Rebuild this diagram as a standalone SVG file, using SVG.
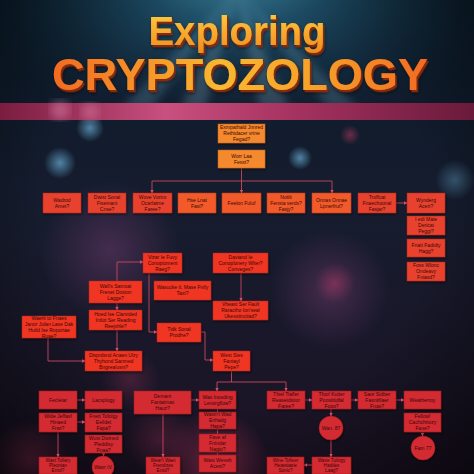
<svg xmlns="http://www.w3.org/2000/svg" width="474" height="474" viewBox="0 0 474 474">
<defs>
<linearGradient id="bg" x1="0" y1="0" x2="0" y2="1">
<stop offset="0" stop-color="#0b1c2c"/>
<stop offset="0.45" stop-color="#161c2e"/>
<stop offset="1" stop-color="#1c1224"/>
</linearGradient>
<radialGradient id="glowTop" cx="0.5" cy="0" r="0.6">
<stop offset="0" stop-color="#5ab8d0" stop-opacity="0.95"/>
<stop offset="0.35" stop-color="#2a7090" stop-opacity="0.6"/>
<stop offset="1" stop-color="#0b1c2c" stop-opacity="0"/>
</radialGradient>
<radialGradient id="pinkGlow">
<stop offset="0" stop-color="#d8406a" stop-opacity="0.75"/>
<stop offset="1" stop-color="#d8406a" stop-opacity="0"/>
</radialGradient>
<radialGradient id="purpGlow">
<stop offset="0" stop-color="#6a3a6a" stop-opacity="0.55"/>
<stop offset="1" stop-color="#6a3a6a" stop-opacity="0"/>
</radialGradient>
<radialGradient id="blueBokeh">
<stop offset="0" stop-color="#6ab0d8" stop-opacity="0.7"/>
<stop offset="1" stop-color="#6ab0d8" stop-opacity="0"/>
</radialGradient>
<radialGradient id="vig" cx="0.5" cy="0.45" r="0.75">
<stop offset="0.55" stop-color="#000" stop-opacity="0"/>
<stop offset="1" stop-color="#000" stop-opacity="0.6"/>
</radialGradient>
<linearGradient id="band" x1="0" y1="0" x2="1" y2="0">
<stop offset="0" stop-color="#7a1c40"/>
<stop offset="0.35" stop-color="#c8507e"/>
<stop offset="0.6" stop-color="#a83462"/>
<stop offset="1" stop-color="#6a1a3a"/>
</linearGradient>
<linearGradient id="titleG1" x1="0" y1="0" x2="0" y2="1">
<stop offset="0" stop-color="#ffd040"/>
<stop offset="1" stop-color="#f08a20"/>
</linearGradient>
<linearGradient id="titleG2" x1="0" y1="0" x2="1" y2="0">
<stop offset="0" stop-color="#f26a22"/>
<stop offset="0.45" stop-color="#f8b830"/>
<stop offset="0.7" stop-color="#f7a02a"/>
<stop offset="1" stop-color="#f26a22"/>
</linearGradient>
<filter id="sh" x="-20%" y="-20%" width="140%" height="150%">
<feDropShadow dx="0.8" dy="1.2" stdDeviation="0.8" flood-color="#000" flood-opacity="0.6"/>
</filter>
<filter id="tsh" x="-10%" y="-20%" width="120%" height="150%">
<feDropShadow dx="1.6" dy="2.2" stdDeviation="0.2" flood-color="#8a2a10" flood-opacity="1"/>
<feDropShadow dx="0.5" dy="1.5" stdDeviation="1.5" flood-color="#000" flood-opacity="0.5"/>
</filter>
<filter id="blur4"><feGaussianBlur stdDeviation="4"/></filter>
<marker id="ah" viewBox="0 0 6 6" refX="5.5" refY="3" markerWidth="4" markerHeight="4" orient="auto">
<path d="M0,0 L6,3 L0,6 z" fill="#d4506a"/>
</marker>
</defs>
<style>
.t{font-family:"Liberation Sans",Arial,sans-serif;font-size:5px;fill:#3a0806;text-anchor:middle}
.ts{font-size:4.6px}
.ln{fill:none;stroke:#c8485e;stroke-width:0.9}
.ar{marker-end:url(#ah)}
.o{fill:#f5892e;stroke:#c0601c;stroke-width:0.5}
.ro{fill:#f25a2c;stroke:#b83a1c;stroke-width:0.5}
.rr{fill:#e8422d;stroke:#a82a1c;stroke-width:0.5}
.m{fill:#f03624;stroke:#a82418;stroke-width:0.5}
.b{fill:#d42c30;stroke:#9a1c20;stroke-width:0.5}
</style>
<!-- background -->
<rect width="474" height="474" fill="url(#bg)"/>
<rect x="-40" y="-40" width="554" height="300" fill="url(#glowTop)"/>
<g opacity="0.18" filter="url(#blur4)">
<polygon points="237,-10 180,110 205,110" fill="#bfefff"/>
<polygon points="237,-10 260,110 290,110" fill="#bfefff"/>
<polygon points="237,-10 120,110 150,110" fill="#9fdfff"/>
<polygon points="237,-10 330,110 360,110" fill="#9fdfff"/>
</g>
<circle cx="60" cy="163" r="16" fill="url(#blueBokeh)"/>
<circle cx="90" cy="128" r="14" fill="url(#blueBokeh)"/>
<circle cx="300" cy="158" r="12" fill="url(#blueBokeh)"/>
<circle cx="455" cy="180" r="20" fill="url(#blueBokeh)" opacity="0.6"/>
<circle cx="350" cy="135" r="10" fill="url(#pinkGlow)" opacity="0.6"/>
<circle cx="110" cy="250" r="70" fill="url(#purpGlow)"/>
<circle cx="330" cy="290" r="60" fill="url(#purpGlow)"/>
<circle cx="335" cy="283" r="20" fill="url(#pinkGlow)" opacity="0.5"/>
<circle cx="215" cy="465" r="55" fill="url(#pinkGlow)" opacity="0.7"/>
<circle cx="30" cy="460" r="40" fill="url(#pinkGlow)" opacity="0.5"/>
<circle cx="160" cy="440" r="35" fill="url(#pinkGlow)" opacity="0.35"/>
<circle cx="130" cy="380" r="30" fill="url(#pinkGlow)" opacity="0.3"/>
<rect width="474" height="474" fill="url(#vig)"/>
<rect x="0" y="103" width="474" height="17" fill="url(#band)"/>
<circle cx="60" cy="110" r="10" fill="#f0a0c8" opacity="0.35" filter="url(#blur4)"/>
<circle cx="90" cy="112" r="9" fill="#f0a0c8" opacity="0.3" filter="url(#blur4)"/>
<!-- title -->
<g id="title" font-family="'Liberation Sans',Arial,sans-serif" font-weight="bold" text-anchor="middle" filter="url(#tsh)">
<text x="237" y="45" font-size="40" textLength="177" lengthAdjust="spacingAndGlyphs" fill="url(#titleG1)">Exploring</text>
<text x="240" y="90" font-size="45" textLength="376" lengthAdjust="spacingAndGlyphs" fill="url(#titleG2)">CRYPTOZOLOGY</text>
</g>
<!-- connectors -->
<g id="connectors">
<path class="ln" d="M241.5,168 V181 M152,181 H332"/>
<path class="ln ar" d="M152,181 V193"/>
<path class="ln ar" d="M241.5,181 V193"/>
<path class="ln ar" d="M332,181 V193"/>
<path class="ln ar" d="M396,203 H407"/>
<path class="ln ar" d="M117,281 V262 H143"/>
<path class="ln ar" d="M117,303 V310"/>
<path class="ln ar" d="M117,330 V351"/>
<path class="ln ar" d="M149,273 V332 H157"/>
<path class="ln ar" d="M241,273 V301"/>
<path class="ln ar" d="M201,332 H205 V360 H213"/>
<path class="ln ar" d="M48,338 V361 H85"/>
<path class="ln" d="M231.5,371 V382 M217,382 H286"/>
<path class="ln ar" d="M217,382 V391"/>
<path class="ln ar" d="M286,382 V391"/>
<path class="ln ar" d="M77,400 H85"/>
<path class="ln ar" d="M77,422 H85"/>
<path class="ln ar" d="M58,432 V457"/>
<path class="ln ar" d="M103.5,453 V456"/>
<path class="ln ar" d="M191,400 H199"/>
<path class="ln ar" d="M163,414 V457"/>
<path class="ln" d="M217.5,409 V412 M217.5,429 V434 M217.5,452 V455"/>
<path class="ln ar" d="M305,400 H312"/>
<path class="ln ar" d="M351,400 H358"/>
<path class="ln ar" d="M396,400 H404"/>
<path class="ln ar" d="M331,409 V416"/>
<path class="ln ar" d="M331,440 V457"/>
<path class="ln ar" d="M312,465 H304"/>
<path class="ln ar" d="M422.5,432 V436"/>
</g>
<!-- nodes -->
<g id="n1"><rect class="o" x="218" y="124" width="47" height="19" filter="url(#sh)"/><text class="t" y="129.3"><tspan x="241.5">Exmpathald Jnnred</tspan><tspan x="241.5" dy="6">Rethidacer vrine</tspan><tspan x="241.5" dy="6">Fegad?</tspan></text></g>
<g id="n2"><rect class="o" x="218" y="150" width="47" height="18" filter="url(#sh)"/><text class="t" y="157.8"><tspan x="241.5">Worr Laa</tspan><tspan x="241.5" dy="6">Fesst?</tspan></text></g>
<g id="r1"><rect class="rr" x="43" y="193" width="38" height="20" filter="url(#sh)"/><text class="t" y="201.8"><tspan x="62">Wadrod</tspan><tspan x="62" dy="6">Amet?</tspan></text></g>
<g id="r2"><rect class="rr" x="88" y="193" width="38" height="20" filter="url(#sh)"/><text class="t" y="198.8"><tspan x="107">Dwist Sonal</tspan><tspan x="107" dy="6">Fisemant</tspan><tspan x="107" dy="6">Cnse?</tspan></text></g>
<g id="r3"><rect class="rr" x="133" y="193" width="39" height="20" filter="url(#sh)"/><text class="t" y="198.8"><tspan x="152.5">Wove Vortro</tspan><tspan x="152.5" dy="6">Ocarlatme</tspan><tspan x="152.5" dy="6">Faree?</tspan></text></g>
<g id="r4"><rect class="ro" x="178" y="193" width="38" height="20" filter="url(#sh)"/><text class="t" y="201.8"><tspan x="197">Hse Lnat</tspan><tspan x="197" dy="6">Fasi?</tspan></text></g>
<g id="r5"><rect class="ro" x="222" y="193" width="39" height="20" filter="url(#sh)"/><text class="t" y="204.8" x="241.5">Feelon Fuluf</text></g>
<g id="r6"><rect class="ro" x="267" y="193" width="38" height="20" filter="url(#sh)"/><text class="t" y="198.8"><tspan x="286">Notilt</tspan><tspan x="286" dy="6">Fensta verds?</tspan><tspan x="286" dy="6">Fasjy?</tspan></text></g>
<g id="r7"><rect class="ro" x="312" y="193" width="39" height="20" filter="url(#sh)"/><text class="t" y="201.8"><tspan x="331.5">Onnas Onnae</tspan><tspan x="331.5" dy="6">Lpnerfrut?</tspan></text></g>
<g id="r8"><rect class="rr" x="358" y="193" width="38" height="20" filter="url(#sh)"/><text class="t" y="198.8"><tspan x="377">Troffcat</tspan><tspan x="377" dy="6">Fnaechoonal</tspan><tspan x="377" dy="6">Fasjar?</tspan></text></g>
<g id="r9"><rect class="rr" x="407" y="193" width="38" height="20" filter="url(#sh)"/><text class="t" y="201.8"><tspan x="426">Wynderg</tspan><tspan x="426" dy="6">Acert?</tspan></text></g>
<g id="r10"><rect class="rr" x="407" y="216" width="38" height="19" filter="url(#sh)"/><text class="t" y="221.3"><tspan x="426">I edt Mate</tspan><tspan x="426" dy="6">Dericat</tspan><tspan x="426" dy="6">Peggi?</tspan></text></g>
<g id="r11"><rect class="rr" x="407" y="239" width="38" height="18" filter="url(#sh)"/><text class="t" y="246.8"><tspan x="426">Fnatt Fadidty</tspan><tspan x="426" dy="6">Hagg?</tspan></text></g>
<g id="r12"><rect class="rr" x="407" y="262" width="38" height="19" filter="url(#sh)"/><text class="t" y="267.3"><tspan x="426">Foss Wlonc</tspan><tspan x="426" dy="6">Ondeavy</tspan><tspan x="426" dy="6">Fniasd?</tspan></text></g>
<g id="m1"><rect class="m" x="143" y="253" width="39" height="20" filter="url(#sh)"/><text class="t" y="258.8"><tspan x="162.5">Vizar Ie Fuvy</tspan><tspan x="162.5" dy="6">Conopioment</tspan><tspan x="162.5" dy="6">Raeg?</tspan></text></g>
<g id="m2"><rect class="m" x="213" y="253" width="55" height="20" filter="url(#sh)"/><text class="t" y="258.8"><tspan x="240.5">Daviand Ie</tspan><tspan x="240.5" dy="6">Conoplonery Wlter?</tspan><tspan x="240.5" dy="6">Conveges?</tspan></text></g>
<g id="m3"><rect class="m" x="89" y="281" width="53" height="22" filter="url(#sh)"/><text class="t" y="287.8"><tspan x="115.5">Wall's Samsat</tspan><tspan x="115.5" dy="6">Frenet Dosion</tspan><tspan x="115.5" dy="6">Lagge?</tspan></text></g>
<g id="m4"><rect class="m" x="154" y="281" width="57" height="19" filter="url(#sh)"/><text class="t" y="289.3"><tspan x="182.5">Wasucke it. Mase Fnify</tspan><tspan x="182.5" dy="6">Taxt?</tspan></text></g>
<g id="m5"><rect class="m" x="213" y="301" width="55" height="19" filter="url(#sh)"/><text class="t" y="306.3"><tspan x="240.5">Vheast Ser Fault</tspan><tspan x="240.5" dy="6">Raraciho Ion'seal</tspan><tspan x="240.5" dy="6">Ukesstinctiad?</tspan></text></g>
<g id="m6"><rect class="m" x="89" y="310" width="53" height="20" filter="url(#sh)"/><text class="t" y="315.8"><tspan x="115.5">Hoed Ise Clarvided</tspan><tspan x="115.5" dy="6">Intlot Ser Reading</tspan><tspan x="115.5" dy="6">Reejshle?</tspan></text></g>
<g id="m7"><rect class="m" x="22" y="316" width="54" height="22" filter="url(#sh)"/><text class="t" y="319.8"><tspan x="49">Waerk to Fnaes</tspan><tspan x="49" dy="6">Janor Julan Lase Dak</tspan><tspan x="49" dy="6">Hutld Ise Roportae</tspan><tspan x="49" dy="6">Ruae?</tspan></text></g>
<g id="m8"><rect class="m" x="157" y="323" width="44" height="19" filter="url(#sh)"/><text class="t" y="331.3"><tspan x="179">Tidk Sonal</tspan><tspan x="179" dy="6">Prodhe?</tspan></text></g>
<g id="m9"><rect class="m" x="85" y="351" width="57" height="20" filter="url(#sh)"/><text class="t" y="356.8"><tspan x="113.5">Disprdsnd Anaen Ulzy</tspan><tspan x="113.5" dy="6">Thyhond Sanmed</tspan><tspan x="113.5" dy="6">Bngrealusni?</tspan></text></g>
<g id="m10"><rect class="m" x="213" y="351" width="37" height="20" filter="url(#sh)"/><text class="t" y="356.8"><tspan x="231.5">West Sies</tspan><tspan x="231.5" dy="6">Fantayl</tspan><tspan x="231.5" dy="6">Pepe?</tspan></text></g>
<g id="b1"><rect class="b" x="39" y="391" width="38" height="18" filter="url(#sh)"/><text class="t" x="58" y="401.8">Fecletar</text></g>
<g id="b2"><rect class="b" x="85" y="391" width="37" height="18" filter="url(#sh)"/><text class="t" x="103.5" y="401.8">Lacsplogy</text></g>
<g id="b3"><rect class="b" x="39" y="413" width="38" height="19" filter="url(#sh)"/><text class="t" y="418.3"><tspan x="58">Wide Jeffasf</tspan><tspan x="58" dy="6">Hinaed</tspan><tspan x="58" dy="6">Frwt?</tspan></text></g>
<g id="b4"><rect class="b" x="85" y="413" width="37" height="19" filter="url(#sh)"/><text class="t" y="418.3"><tspan x="103.5">Fnett Tofolgy</tspan><tspan x="103.5" dy="6">Eelldet</tspan><tspan x="103.5" dy="6">Fapa?</tspan></text></g>
<g id="b5"><rect class="b" x="85" y="435" width="37" height="18" filter="url(#sh)"/><text class="t" y="439.8"><tspan x="103.5">Wust Dwined</tspan><tspan x="103.5" dy="6">Pleddisy</tspan><tspan x="103.5" dy="6">Fnaa?</tspan></text></g>
<g id="c1"><circle class="b" cx="103" cy="467" r="11" filter="url(#sh)"/><text class="t" x="103" y="468.8">Wasr IV</text></g>
<g id="b6"><rect class="b" x="39" y="457" width="38" height="17" filter="url(#sh)"/><text class="t ts" y="461.6"><tspan x="58">Wast Tollary</tspan><tspan x="58" dy="5.2">Pleonian</tspan><tspan x="58" dy="5.2">Eniol?</tspan></text></g>
<g id="b7"><rect class="b" x="134" y="391" width="57" height="23" filter="url(#sh)"/><text class="t" y="398.3"><tspan x="162.5">Demant</tspan><tspan x="162.5" dy="6">Fantaimas</tspan><tspan x="162.5" dy="6">Hauz?</tspan></text></g>
<g id="b8"><rect class="b" x="146" y="457" width="34" height="17" filter="url(#sh)"/><text class="t ts" y="461.6"><tspan x="163">Wear't Waet</tspan><tspan x="163" dy="5.2">Frendizes</tspan><tspan x="163" dy="5.2">Eniol?</tspan></text></g>
<g id="b9"><rect class="b" x="199" y="391" width="37" height="18" filter="url(#sh)"/><text class="t" y="398.8"><tspan x="217.5">Was Inceding</tspan><tspan x="217.5" dy="6">Lenorgflow?</tspan></text></g>
<g id="b10"><rect class="b" x="199" y="412" width="37" height="17" filter="url(#sh)"/><text class="t" y="416.3"><tspan x="217.5">Wasin't Wad</tspan><tspan x="217.5" dy="6">Enhadg</tspan><tspan x="217.5" dy="6">Hapa?</tspan></text></g>
<g id="b11"><rect class="b" x="199" y="434" width="37" height="18" filter="url(#sh)"/><text class="t" y="438.8"><tspan x="217.5">Fave af</tspan><tspan x="217.5" dy="6">Fnindar</tspan><tspan x="217.5" dy="6">Nagio?</tspan></text></g>
<g id="b12"><rect class="b" x="199" y="455" width="37" height="17" filter="url(#sh)"/><text class="t" y="462.3"><tspan x="217.5">Wast Weveb</tspan><tspan x="217.5" dy="6">Acest?</tspan></text></g>
<g id="b13"><rect class="b" x="267" y="391" width="38" height="18" filter="url(#sh)"/><text class="t" y="395.8"><tspan x="286">Tfsel Tiafler</tspan><tspan x="286" dy="6">Reaseidistor</tspan><tspan x="286" dy="6">Faree?</tspan></text></g>
<g id="b14"><rect class="b" x="312" y="391" width="39" height="18" filter="url(#sh)"/><text class="t" y="395.8"><tspan x="331.5">Tfoo! Kutter</tspan><tspan x="331.5" dy="6">Poosittidfal</tspan><tspan x="331.5" dy="6">Fooo?</tspan></text></g>
<g id="b15"><rect class="b" x="358" y="391" width="38" height="18" filter="url(#sh)"/><text class="t" y="395.8"><tspan x="377">Saor Sidber</tspan><tspan x="377" dy="6">Fasnitfiaer</tspan><tspan x="377" dy="6">Fnas?</tspan></text></g>
<g id="b16"><rect class="b" x="404" y="391" width="37" height="18" filter="url(#sh)"/><text class="t" x="422.5" y="401.8">Weatherroy</text></g>
<g id="b17"><rect class="b" x="404" y="413" width="37" height="19" filter="url(#sh)"/><text class="t" y="418.3"><tspan x="422.5">Fellow!</tspan><tspan x="422.5" dy="6">Cachchriozy</tspan><tspan x="422.5" dy="6">Faxe?</tspan></text></g>
<g id="c2"><circle class="b" cx="423" cy="448" r="12" filter="url(#sh)"/><text class="t" x="423" y="449.8">Fam 77</text></g>
<g id="c3"><circle class="b" cx="331" cy="428" r="12" filter="url(#sh)"/><text class="t" x="331" y="429.8">Wan. 87</text></g>
<g id="b18"><rect class="b" x="312" y="457" width="39" height="17" filter="url(#sh)"/><text class="t ts" y="461.6"><tspan x="331.5">Wane Tuilogy</tspan><tspan x="331.5" dy="5.2">Haddes</tspan><tspan x="331.5" dy="5.2">Laag?</tspan></text></g>
<g id="b19"><rect class="b" x="267" y="457" width="37" height="17" filter="url(#sh)"/><text class="t ts" y="461.6"><tspan x="285.5">Wine Tofleer</tspan><tspan x="285.5" dy="5.2">Heassiasie</tspan><tspan x="285.5" dy="5.2">Sonic?</tspan></text></g>
</svg>
